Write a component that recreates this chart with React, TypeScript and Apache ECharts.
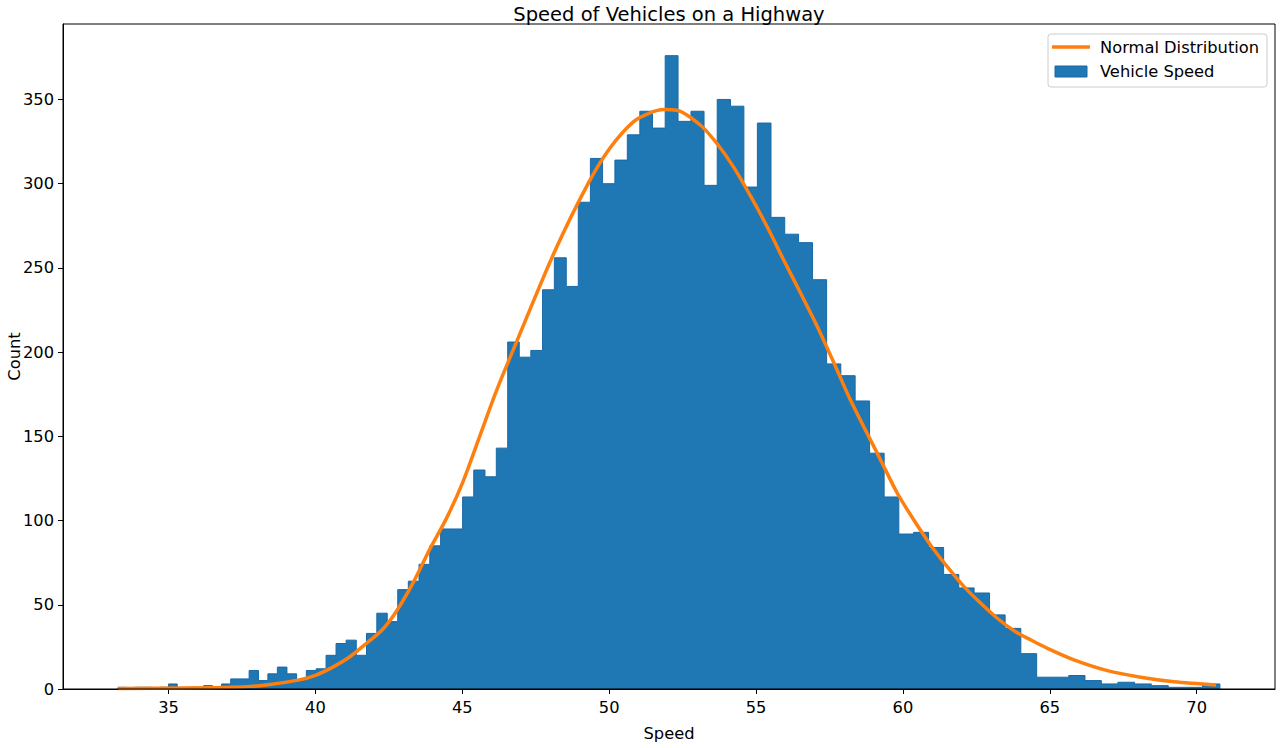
import React, { useEffect, useRef } from "react";
import * as echarts from "echarts";

// Histogram bins: 90 log-spaced bins between these edges
const BIN_MIN = 33.28;
const BIN_MAX = 70.79;
const BIN_COUNT = 90;

// Counts per bin, left to right
const counts = [
  1, 0, 1, 1, 0, 1, 3, 0, 1, 1, 2, 1, 3, 6, 6, 11, 5, 9, 13, 9,
  5, 11, 12, 20, 27, 29, 20, 33, 45, 40, 59, 64, 74, 85, 95, 95,
  114, 130, 126, 143, 206, 197, 201, 237, 256, 239, 289, 315,
  300, 314, 329, 343, 333, 376, 337, 343, 299, 350, 346, 298,
  336, 280, 270, 265, 243, 193, 186, 171,
  140, 114, 92, 93, 84, 68, 60, 57, 44, 36, 21,
  7, 7, 8, 5, 3, 4, 3,
  2, 1, 1, 3,
];

// Fitted curve
const curveX = [
  33.28, 37.18, 38.32, 39.45, 40.02, 40.59, 41.16, 41.73, 42.29, 42.75, 43.32, 43.89,
  44.45, 45.02, 45.59, 46.16, 47.01, 48.15, 49.28, 50.02, 50.82, 51.39, 51.84, 52.3,
  53.09, 53.66, 54.23, 54.8, 55.36, 55.93, 56.5, 57.07, 57.64, 58.2, 59.23, 59.8,
  60.36, 60.93, 61.5, 62.07, 62.64, 63.21, 63.77, 64.34, 64.91, 65.82, 66.96, 68.09,
  69.23, 70.66,
];
const curveY = [
  0.3, 1, 2.4, 5.4, 8.3, 13, 19, 27, 35.5, 46, 63, 83,
  101, 123, 150, 177, 213, 260, 300, 321, 336.7, 342, 344, 343.6,
  335, 324, 310, 293, 275, 255, 235.5, 215.7, 194, 172, 136.3, 116.5,
  100.6, 85.7, 72.8, 60.9, 51, 42, 34.7, 29.2, 24.2, 17.3, 10.9, 7,
  4.3, 2.4,
];

const xTicks = [35, 40, 45, 50, 55, 60, 65, 70];
const yTicks = [0, 50, 100, 150, 200, 250, 300, 350];

const TITLE = "Speed of Vehicles on a Highway";
const X_NAME = "Speed";
const Y_NAME = "Count";
const LEGEND_LINE = "Normal Distribution";
const LEGEND_BAR = "Vehicle Speed";

const FONT = "'DejaVu Sans', sans-serif";
const FS = 16.3;

export default function App() {
  const ref = useRef<HTMLDivElement>(null);

  useEffect(() => {
    if (!ref.current) return;
    const chart = echarts.init(ref.current, null, { renderer: "svg" });

    const edges: number[] = [];
    for (let i = 0; i <= BIN_COUNT; i++) {
      edges.push(BIN_MIN * Math.pow(BIN_MAX / BIN_MIN, i / BIN_COUNT));
    }
    const histData: number[][] = [[edges[0], 0]];
    counts.forEach((c, i) => histData.push([edges[i], c]));
    histData.push([edges[BIN_COUNT], counts[counts.length - 1]]);
    histData.push([edges[BIN_COUNT], 0]);

    const dataMin = edges[0];
    const dataMax = edges[BIN_COUNT];
    const span = dataMax - dataMin;
    const maxCount = Math.max(...counts);

    const gridLeft = 63;
    const gridTop = 24;
    const gridW = 1212;
    const gridH = 665;

    chart.setOption({
      animation: false,
      backgroundColor: "#ffffff",
      grid: {
        left: gridLeft,
        top: gridTop,
        width: gridW,
        height: gridH,
        show: true,
        borderColor: "#000000",
        borderWidth: 1,
        backgroundColor: "transparent",
        z: 10,
      },
      xAxis: {
        type: "value",
        min: dataMin - 0.05 * span,
        max: dataMax + 0.05 * span,
        axisLine: { show: true, onZero: false, lineStyle: { color: "#000", width: 1 } },
        axisTick: {
          show: true,
          length: 5,
          customValues: xTicks,
          lineStyle: { color: "#000", width: 1 },
        },
        axisLabel: {
          customValues: xTicks,
          fontSize: FS,
          color: "#000",
          fontFamily: FONT,
          margin: 10,
        },
        splitLine: { show: false },
      },
      yAxis: {
        type: "value",
        min: 0,
        max: maxCount * 1.05,
        axisLine: { show: true, lineStyle: { color: "#000", width: 1 } },
        axisTick: {
          show: true,
          length: 5,
          customValues: yTicks,
          lineStyle: { color: "#000", width: 1 },
        },
        axisLabel: {
          customValues: yTicks,
          fontSize: FS,
          color: "#000",
          fontFamily: FONT,
          margin: 9,
        },
        splitLine: { show: false },
      },
      series: [
        {
          name: LEGEND_BAR,
          type: "line",
          step: "end",
          data: histData,
          showSymbol: false,
          symbol: "none",
          lineStyle: { color: "#1a69a6", width: 1 },
          areaStyle: { color: "#1f77b4", opacity: 1, origin: "start" },
          z: 2,
        },
        {
          name: LEGEND_LINE,
          type: "line",
          data: curveX.map((x, i) => [x, curveY[i]]),
          smooth: 0.3,
          showSymbol: false,
          symbol: "none",
          lineStyle: { color: "#ff7f0e", width: 3.5 },
          z: 3,
        },
      ],
      graphic: [
        {
          type: "text",
          x: gridLeft + gridW / 2,
          y: 14,
          style: {
            text: TITLE,
            fontSize: 19.5,
            fontFamily: FONT,
            fill: "#000",
            align: "center",
            verticalAlign: "middle",
          },
        },
        {
          type: "text",
          x: gridLeft + gridW / 2,
          y: 733,
          style: {
            text: X_NAME,
            fontSize: FS,
            fontFamily: FONT,
            fill: "#000",
            align: "center",
            verticalAlign: "middle",
          },
        },
        {
          type: "text",
          x: 14,
          y: gridTop + gridH / 2,
          rotation: Math.PI / 2,
          style: {
            text: Y_NAME,
            fontSize: FS,
            fontFamily: FONT,
            fill: "#000",
            align: "center",
            verticalAlign: "middle",
          },
        },
        {
          type: "rect",
          shape: { x: 1048, y: 34, width: 219, height: 53, r: 3 },
          style: { fill: "rgba(255,255,255,0.8)", stroke: "#cccccc", lineWidth: 1 },
          z: 20,
        },
        {
          type: "line",
          shape: { x1: 1052, y1: 47, x2: 1090, y2: 47 },
          style: { stroke: "#ff7f0e", lineWidth: 3.5 },
          z: 21,
        },
        {
          type: "rect",
          shape: { x: 1055, y: 66, width: 32, height: 11 },
          style: { fill: "#1f77b4", stroke: "#1a69a6", lineWidth: 1 },
          z: 21,
        },
        {
          type: "text",
          x: 1100,
          y: 47,
          style: {
            text: LEGEND_LINE,
            fontSize: FS,
            fontFamily: FONT,
            fill: "#000",
            align: "left",
            verticalAlign: "middle",
          },
          z: 21,
        },
        {
          type: "text",
          x: 1100,
          y: 71,
          style: {
            text: LEGEND_BAR,
            fontSize: FS,
            fontFamily: FONT,
            fill: "#000",
            align: "left",
            verticalAlign: "middle",
          },
          z: 21,
        },
      ],
    });

    return () => chart.dispose();
  }, []);

  return (
    <div
      ref={ref}
      style={{ position: "fixed", left: 0, top: 0, width: 1280, height: 748, background: "#fff" }}
    />
  );
}
